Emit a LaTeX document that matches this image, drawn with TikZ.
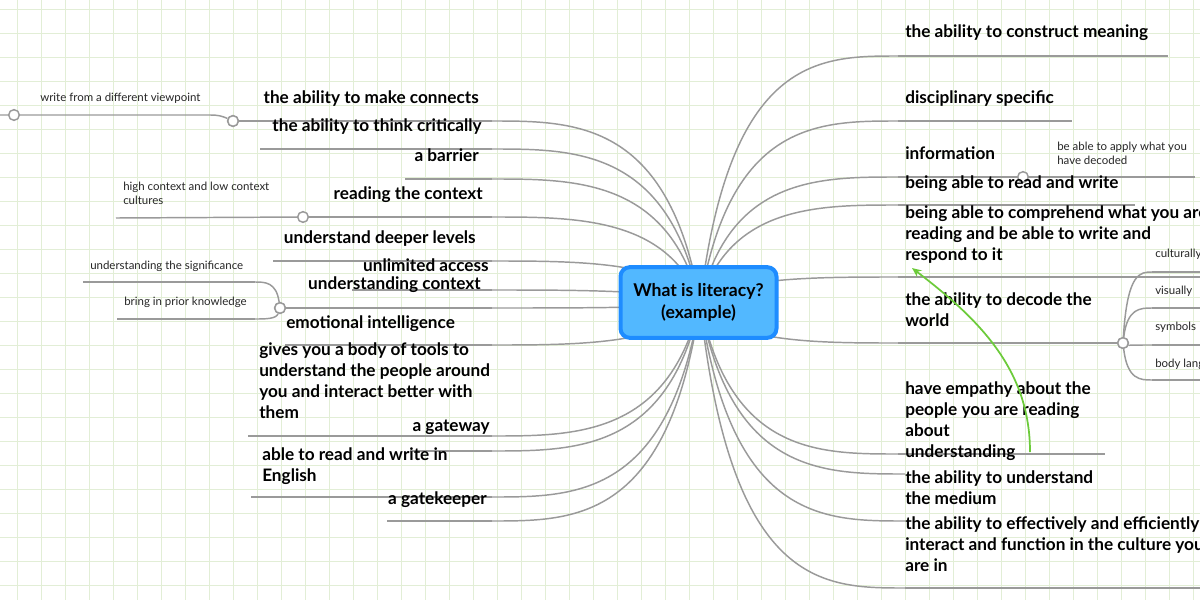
\documentclass[tikz,border=0pt]{standalone}
\usepackage{fontspec}
\setmainfont{Lato}
\usetikzlibrary{calc,arrows.meta}
\definecolor{gridc}{HTML}{E2EED6}
\definecolor{brc}{HTML}{9A9A9A}
\definecolor{cfill}{HTML}{52B8FF}
\definecolor{cdraw}{HTML}{1E8CFF}
\definecolor{grn}{HTML}{6CCB3A}
\tikzset{
  br/.style={draw=brc,line width=1.1pt},
  big/.style={font=\bfseries\fontsize{12.9}{15.8}\selectfont,inner sep=0pt,align=left,anchor=north west},
  bigr/.style={font=\bfseries\fontsize{12.9}{15.8}\selectfont,inner sep=0pt,align=right,anchor=north east},
  small/.style={font=\fontsize{8.6}{10.5}\selectfont,text=black!85,inner sep=0pt,align=left,anchor=north west},
  knob/.style={circle,draw=brc,line width=1.1pt,fill=white,minimum size=8pt,inner sep=0pt},
}
\newcommand\curv[2]{\draw[br] let \p1=(#1), \p2=(#2) in (#1) .. controls ({\x1+0.15*(\x2-\x1)},\y2) and ({\x1+0.6*(\x2-\x1)},\y2) .. (#2);}
\begin{document}
\begin{tikzpicture}[x=0.75pt,y=-0.75pt]
\useasboundingbox (0,0) rectangle (1200,600);
\fill[white] (0,0) rectangle (1200,600);
\foreach \i in {17,41,...,1200} \draw[gridc,line width=0.6pt] (\i,0) -- (\i,600);
\foreach \j in {9,33,...,600} \draw[gridc,line width=0.6pt] (0,\j) -- (1200,\j);
\coordinate (s) at (700,303);
% right ends
\coordinate (r1) at (898,56);  \coordinate (r1e) at (1168,56);
\coordinate (r2) at (898,121); \coordinate (r2e) at (1072,121);
\coordinate (r3) at (898,177);
\coordinate (r4) at (898,205); \coordinate (r4e) at (1135,205);
\coordinate (r5) at (898,277); \coordinate (r5e) at (1200,277);
\coordinate (r6) at (898,343);
\coordinate (r7) at (898,454); \coordinate (r7e) at (1105,454);
\coordinate (r8) at (905,474);
\coordinate (r9) at (905,521);
\coordinate (r10) at (905,588); \coordinate (r10e) at (1200,588);
% left ends
\coordinate (l1) at (492,121);
\coordinate (l2) at (492,149); \coordinate (l2e) at (260,149);
\coordinate (l3) at (492,179); \coordinate (l3e) at (405,179);
\coordinate (l4) at (492,217);
\coordinate (l5) at (492,261); \coordinate (l5e) at (273,261);
\coordinate (l6) at (492,290); \coordinate (l6e) at (352,290);
\coordinate (l7) at (492,308);
\coordinate (l8) at (492,345); \coordinate (l8e) at (285,345);
\coordinate (l9) at (492,436); \coordinate (l9e) at (248,436);
\coordinate (l10) at (492,451); \coordinate (l10e) at (410,451);
\coordinate (l11) at (492,497); \coordinate (l11e) at (251,497);
\coordinate (l12) at (492,521); \coordinate (l12e) at (387,521);
\foreach \nm in {r1,r2,r3,r4,r5,r6,r7,r8,r9,r10,l1,l2,l3,l4,l5,l6,l7,l8,l9,l10,l11,l12} {\curv{s}{\nm}}
\foreach \aa/\bb in {r1/r1e,r2/r2e,r4/r4e,r5/r5e,r7/r7e,r10/r10e,l2/l2e,l3/l3e,l5/l5e,l6/l6e,l8/l8e,l9/l9e,l10/l10e,l11/l11e,l12/l12e} \draw[br] (\aa) -- (\bb);
% knob branches
\node[knob] (k3) at (1023,177) {};
\draw[br] (r3) -- (k3);
\coordinate (k3e) at (1195,177); \draw[br] (k3) -- (k3e);
\node[knob] (k6) at (1123,343) {};
\draw[br] (r6) -- (k6);
\foreach \yy/\nm in {272/a,308/b,345/c,380/d} {
  \coordinate (q\nm) at (1152,\yy); \coordinate (qe\nm) at (1200,\yy);
  \curv{k6}{q\nm} \draw[br] (q\nm) -- (qe\nm);
}
\node[knob] (k1) at (233,121) {};
\draw[br] (l1) -- (k1);
\coordinate (k1a) at (210,115);
\node[knob] (k1b) at (14,115) {};
\coordinate (k1c) at (0,115);
\draw[br] (k1) .. controls (222,116) and (218,115) .. (k1a) -- (k1b) -- (k1c);
\node[knob] (k4) at (303,217) {};
\draw[br] (l4) -- (k4);
\coordinate (k4e) at (116,218); \draw[br] (k4) -- (k4e);
\node[knob] (k7) at (280,308) {};
\draw[br] (l7) -- (k7);
\coordinate (k7a) at (255,282); \coordinate (k7ae) at (83,282);
\coordinate (k7b) at (255,319); \coordinate (k7be) at (117,319);
\curv{k7}{k7a} \draw[br] (k7a) -- (k7ae);
\curv{k7}{k7b} \draw[br] (k7b) -- (k7be);
\node[knob] at (k7) {};
\node[knob] at (k6) {};
\node[knob] at (k1) {};
% center
\node[draw=cdraw,fill=cfill,line width=3pt,rounded corners=7pt,minimum width=117pt,minimum height=53pt,align=center,font=\bfseries\fontsize{13.2}{16.5}\selectfont] (c) at (698.5,302.5) {What is literacy?\\(example)};
% right texts
\node[big] (t1) at (905,24) {the ability to construct meaning};
\node[big] (t2) at (905,90) {disciplinary specific};
\node[big] (t3) at (905,146) {information};
\node[small] (s3) at (1057,142) {be able to apply what you\\have decoded};
\node[big] (t4) at (905,175) {being able to read and write};
\node[big] (t5) at (905,205) {being able to comprehend what you are\\reading and be able to write and\\respond to it};
\node[big] (t6) at (905,292) {the ability to decode the\\world};
\node[small] (s6a) at (1155,249) {culturally};
\node[small] (s6b) at (1155,286) {visually};
\node[small] (s6c) at (1155,322) {symbols};
\node[small] (s6d) at (1155,359) {body language};
\node[big] (t7) at (905,381) {have empathy about the\\people you are reading\\about\\understanding};
\node[big] (t8) at (905,470) {the ability to understand\\the medium};
\node[big] (t9) at (905,516) {the ability to effectively and efficiently\\interact and function in the culture you\\are in};
% left texts
\node[bigr] (u1) at (479,90) {the ability to make connects};
\node[small] (v1) at (40,93) {write from a different viewpoint};
\node[bigr] (u2) at (482,118) {the ability to think critically};
\node[bigr] (u3) at (479,148) {a barrier};
\node[bigr] (u4) at (483,186) {reading the context};
\node[small] (v4) at (123,182) {high context and low context\\cultures};
\node[bigr] (u5) at (476,230) {understand deeper levels};
\node[bigr] (u6) at (489,258) {unlimited access};
\node[bigr] (u7) at (481,276) {understanding context};
\node[small] (v7a) at (90,261) {understanding the significance};
\node[small] (v7b) at (124,297) {bring in prior knowledge};
\node[big] (u8) at (286,315) {emotional intelligence};
\node[big] (u9) at (259,342) {gives you a body of tools to\\understand the people around\\you and interact better with\\them};
\node[bigr] (u10) at (490,420) {a gateway};
\node[big] (u11) at (262,447) {able to read and write in\\English};
\node[bigr] (u12) at (487,491) {a gatekeeper};
% green arrow
\coordinate (ga) at (1030,452);
\coordinate (gb) at (912,268);
\draw[grn,line width=1.3pt,-{Stealth[length=7pt,width=6pt]}] (ga) .. controls (1030,370) and (980,320) .. (gb);
\end{tikzpicture}
\end{document}
